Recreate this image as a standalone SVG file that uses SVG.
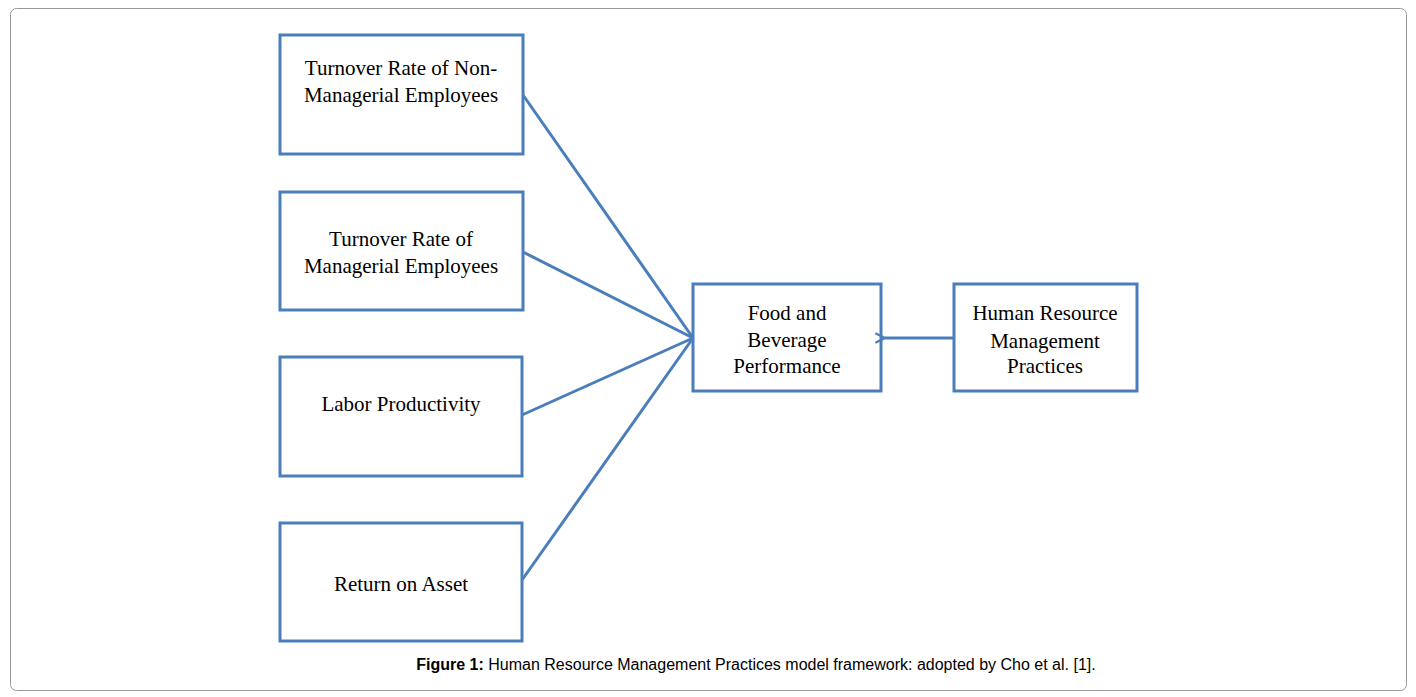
<svg xmlns="http://www.w3.org/2000/svg" width="1416" height="697" viewBox="0 0 1416 697">
<style>
.b{fill:#fff;stroke:#4a7ebb;stroke-width:3}
.t{font-family:"Liberation Serif",serif;font-size:21px;fill:#000;text-anchor:middle}
.c{stroke:#4a7ebb;stroke-width:3;fill:none}
</style>
<defs><marker id="a" viewBox="0 0 10 10" refX="1" refY="5" markerWidth="4" markerHeight="4" orient="auto"><path d="M9,1 L1,5 L9,9" fill="none" stroke="#4a7ebb" stroke-width="2"/></marker></defs>
<rect x="10.5" y="8.5" width="1396" height="682" rx="6" fill="#fff" stroke="#999" stroke-width="1"/>
<g id="n1"><rect class="b" x="280" y="35" width="243" height="119"/><text class="t" x="401" y="75">Turnover Rate of Non-</text><text class="t" x="401" y="102">Managerial Employees</text></g>
<g id="n2"><rect class="b" x="280" y="192" width="243" height="118"/><text class="t" x="401" y="246">Turnover Rate of</text><text class="t" x="401" y="273">Managerial Employees</text></g>
<g id="n3"><rect class="b" x="280" y="357" width="242" height="119"/><text class="t" x="401" y="411">Labor Productivity</text></g>
<g id="n4"><rect class="b" x="280" y="523" width="242" height="118"/><text class="t" x="401" y="591">Return on Asset</text></g>
<g id="n5"><rect class="b" x="693" y="284" width="188" height="107"/><text class="t" x="787" y="320">Food and</text><text class="t" x="787" y="347">Beverage</text><text class="t" x="787" y="373">Performance</text></g>
<g id="n6"><rect class="b" x="954" y="284" width="183" height="107"/><text class="t" x="1045" y="320">Human Resource</text><text class="t" x="1045" y="348">Management</text><text class="t" x="1045" y="373">Practices</text></g>
<g id="connectors">
<line class="c" x1="523" y1="95" x2="693" y2="338"/>
<line class="c" x1="523" y1="252" x2="693" y2="338"/>
<line class="c" x1="522" y1="415" x2="693" y2="338"/>
<line class="c" x1="522" y1="580" x2="693" y2="338"/>
<line class="c" x1="954" y1="338" x2="885" y2="338" marker-end="url(#a)"/>
</g>
<text x="756" y="670" font-family="Liberation Sans,sans-serif" font-size="16" text-anchor="middle" fill="#000"><tspan font-weight="bold">Figure 1:</tspan> Human Resource Management Practices model framework: adopted by Cho et al. [1].</text>
</svg>
